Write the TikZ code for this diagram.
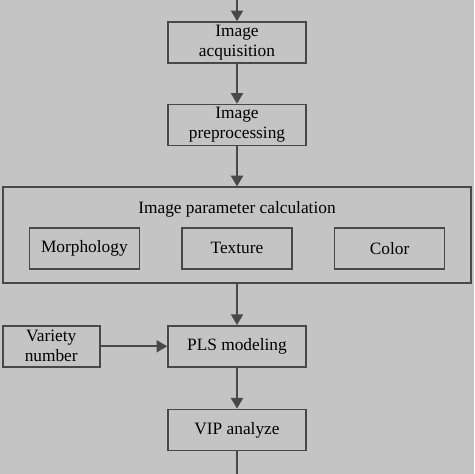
\documentclass[tikz,border=0pt]{standalone}
\usepackage{fontspec}
\setmainfont{Liberation Serif}
\usetikzlibrary{positioning,arrows.meta}
\definecolor{bggray}{RGB}{196,196,196}
\definecolor{linegray}{RGB}{72,72,72}

\begin{document}
\begin{tikzpicture}[
    font=\fontsize{13}{15}\selectfont,
    block/.style={rectangle, draw=linegray, line width=1.2pt, fill=bggray, align=center, minimum width=103.5pt, minimum height=30.75pt, inner sep=1pt},
    param/.style={rectangle, draw=linegray, line width=1.2pt, fill=bggray, align=center, minimum width=82.5pt, minimum height=30.75pt, inner sep=1pt},
    group/.style={rectangle, draw=linegray, line width=1.2pt, minimum width=351pt, minimum height=72pt},
    arrow/.style={-{Triangle[length=8pt,width=9pt]}, line width=1.5pt, draw=linegray}
]
    % background and page size
    \fill [bggray] (-177.75pt,31.875pt) rectangle (177.75pt,-323.625pt);
    \useasboundingbox (-177.75pt,31.875pt) rectangle (177.75pt,-323.625pt);

    % main steps
    \node [block] (acq) at (0,0) {Image\\acquisition};
    \node [block, below=30pt of acq] (pre) {Image\\preprocessing};
    \node [group, below=30pt of pre] (calc) {};
    \node [below=7.5pt of calc.north] (title) {Image parameter calculation};
    \node [param, below=4pt of title] (texture) {Texture};
    \node [param, left=30.75pt of texture] (morph) {Morphology};
    \node [param, right=30.75pt of texture] (color) {Color};
    \node [block, below=30.75pt of calc] (pls) {PLS modeling};
    \node [block, minimum width=72.75pt, left=50pt of pls] (variety) {Variety\\number};
    \node [block, below=30.75pt of pls] (vip) {VIP analyze};

    % free ends
    \coordinate [above=16.5pt of acq] (start);
    \coordinate [below=20.25pt of vip] (end);

    % connectors
    \draw [arrow] (start) -- (acq);
    \draw [arrow] (acq) -- (pre);
    \draw [arrow] (pre) -- (calc);
    \draw [arrow] (calc) -- (pls);
    \draw [arrow] (variety) -- (pls);
    \draw [arrow] (pls) -- (vip);
    \draw [line width=1.5pt, draw=linegray] (vip) -- (end);
\end{tikzpicture}
\end{document}
